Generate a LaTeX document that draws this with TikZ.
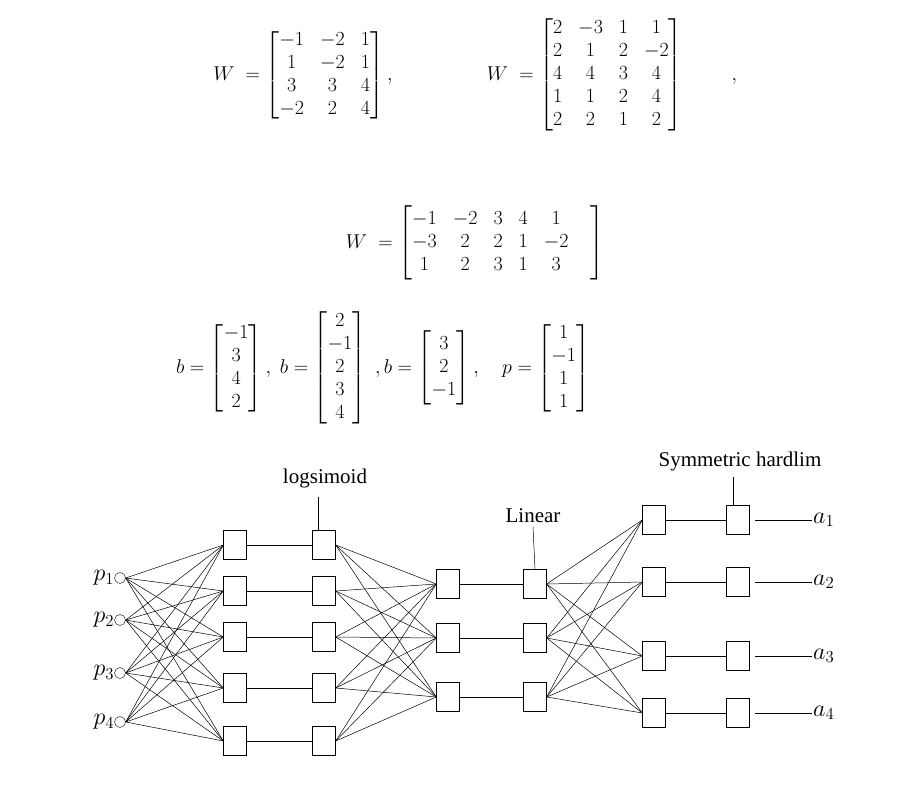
\RequirePackage{fix-cm}
\documentclass[tikz,border=0pt]{standalone}
\usepackage{amsmath}
\usepackage{fontspec}
\setmainfont{Liberation Serif}
\begin{document}
\begin{tikzpicture}[x=1pt,y=-1pt,
  box/.style={draw,minimum width=23pt,minimum height=29pt,inner sep=0pt},
  inp/.style={draw,circle,minimum size=11pt,inner sep=0pt},
  w/.style={line width=0.5pt},
  lab/.style={font=\fontsize{21}{25}\selectfont},
  pl/.style={font=\fontsize{24}{28}\selectfont},
  mat/.style={font=\fontsize{20}{23}\selectfont}]
\setlength\arraycolsep{8pt}
\useasboundingbox (0,0) rectangle (914,787);
% matrices
\node[mat] (m1) at (303,75) {$W\;=\begin{bmatrix}-1&-2&1\\1&-2&1\\3&3&4\\-2&2&4\end{bmatrix},$};
\node[mat] (m2) at (612,75) {$W\;=\begin{bmatrix}2&-3&1&1\\2&1&2&-2\\4&4&3&4\\1&1&2&4\\2&2&1&2\end{bmatrix}\qquad\;,$};
\node[mat] (m3) at (475,243) {$W\;=\begin{bmatrix}-1&-2&3&4&1&\;\\-3&2&2&1&-2&\;\\1&2&3&1&3&\;\end{bmatrix}$};
\node[mat] (m4) at (383,368) {$b=\begin{bmatrix}-1\\3\\4\\2\end{bmatrix},\; b=\begin{bmatrix}2\\-1\\2\\3\\4\end{bmatrix}\;,b=\begin{bmatrix}3\\2\\-1\end{bmatrix},\quad p=\begin{bmatrix}1\\-1\\1\\1\end{bmatrix}$};
% inputs
\foreach \i/\y in {1/578,2/620,3/673,4/722}{
  \node[inp] (p\i) at (120,\y) {};
  \node[pl,anchor=east,inner sep=0pt] (pl\i) at (p\i.west) {$p_{\i}$};
}
\foreach \i/\y in {1/545,2/591,3/637,4/688,5/741}{
  \node[box] (a\i) at (235,\y) {};
  \node[box] (b\i) at (324,\y) {};
  \draw[w] (a\i) -- (b\i);
}
\foreach \i/\y in {1/584,2/638,3/697}{
  \node[box] (c\i) at (448,\y) {};
  \node[box] (d\i) at (535,\y) {};
  \draw[w] (c\i) -- (d\i);
}
\foreach \i/\y in {1/520,2/582,3/656,4/713}{
  \node[box] (e\i) at (654,\y) {};
  \node[box] (f\i) at (738,\y) {};
  \draw[w] (e\i) -- (f\i);
  \coordinate (o\i) at (812,\y);
  \draw[w] (f\i.east) ++(5,0) -- (o\i);
  \node[pl,anchor=west,inner sep=1pt] (al\i) at (o\i) {$a_{\i}$};
}
\foreach \i in {1,...,4}{\foreach \j in {1,...,5}{\draw[w] (p\i.east) -- (a\j.west);}}
\foreach \i in {1,...,5}{\foreach \j in {1,...,3}{\draw[w] (b\i.east) -- (c\j.west);}}
\foreach \i in {1,...,3}{\foreach \j in {1,...,4}{\draw[w] (d\i.east) -- (e\j.west);}}
% labels
\node[lab] (L1) at (325,478) {logsimoid};
\draw[w] (318,497) -- (b1.north -| 318,0);
\node[lab] (L2) at (533,516) {Linear};
\draw[w] (L2.south) -- (d1.north);
\node[lab] (L3) at (740,461) {Symmetric hardlim};
\draw[w] (733,477) -- (733,505);
\end{tikzpicture}
\end{document}
